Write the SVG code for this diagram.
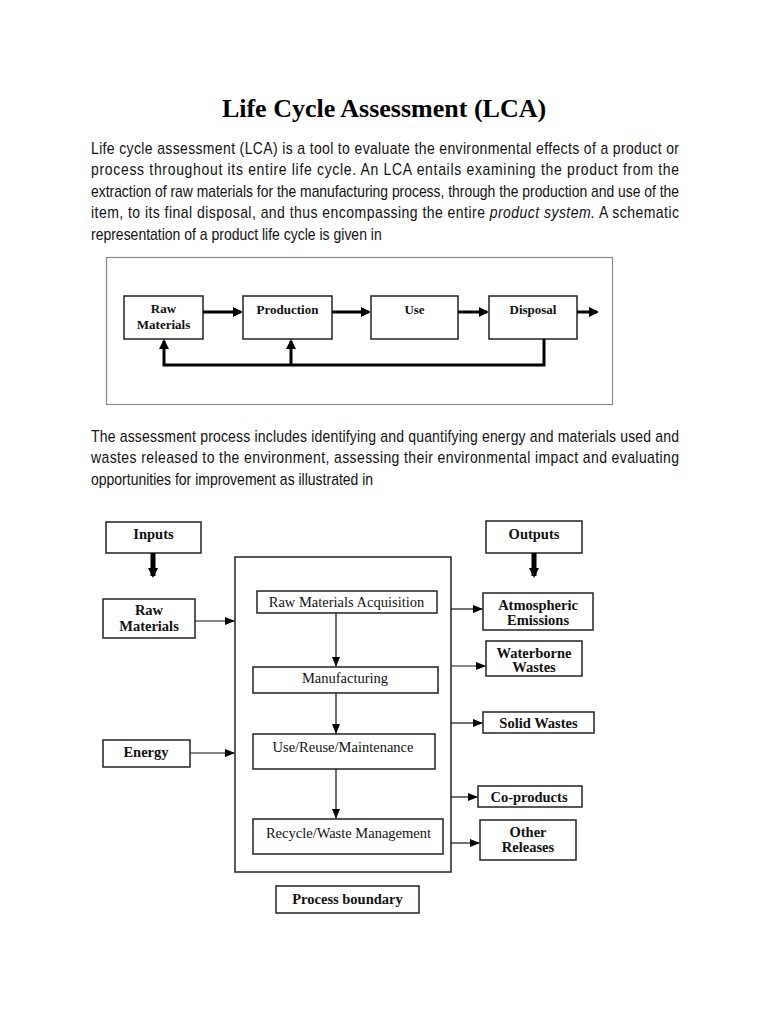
<svg xmlns="http://www.w3.org/2000/svg" width="768" height="1024" viewBox="0 0 768 1024">
<defs>
<style>
.title{font-family:"Liberation Serif","Times New Roman",serif;font-weight:bold;font-size:26px;fill:#000}
.para{font-family:"Liberation Sans",Arial,sans-serif;font-size:16px;fill:#111}
.bl{font-family:"Liberation Serif","Times New Roman",serif;font-weight:bold;font-size:13px;fill:#111;text-anchor:middle}
.bl2{font-family:"Liberation Serif","Times New Roman",serif;font-weight:bold;font-size:14.5px;fill:#111;text-anchor:middle}
.rl{font-family:"Liberation Serif","Times New Roman",serif;font-size:14.5px;fill:#111;text-anchor:middle}
.box{fill:#fff;stroke:#222;stroke-width:1.5}
.thick{fill:none;stroke:#000;stroke-width:3}
.thin{fill:none;stroke:#111;stroke-width:1.2}
</style>
<marker id="bigArrow" markerWidth="10" markerHeight="10" refX="8" refY="5" orient="auto" markerUnits="userSpaceOnUse" viewBox="0 0 10 10">
<path d="M0,0 L10,5 L0,10 z" fill="#000"/>
</marker>
<marker id="smallArrow" markerWidth="10" markerHeight="8" refX="9" refY="4" orient="auto" markerUnits="userSpaceOnUse" viewBox="0 0 10 8">
<path d="M0,0 L10,4 L0,8 z" fill="#000"/>
</marker>
</defs>
<rect width="768" height="1024" fill="#fff"/>

<text class="title" x="384" y="117" text-anchor="middle">Life Cycle Assessment (LCA)</text>

<g id="para1" transform="scale(0.875,1)">
<text class="para" x="104" y="154" textLength="672" lengthAdjust="spacing">Life cycle assessment (LCA) is a tool to evaluate the environmental effects of a product or</text>
<text class="para" x="104" y="175" textLength="672" lengthAdjust="spacing">process throughout its entire life cycle. An LCA entails examining the product from the</text>
<text class="para" x="104" y="197" textLength="672" lengthAdjust="spacingAndGlyphs">extraction of raw materials for the manufacturing process, through the production and use of the</text>
<text class="para" x="104" y="218" textLength="672" lengthAdjust="spacing">item, to its final disposal, and thus encompassing the entire <tspan font-style="italic">product system.</tspan> A schematic</text>
<text class="para" x="104" y="240">representation of a product life cycle is given in</text>
</g>

<g id="figure1">
<rect x="106.5" y="257.5" width="506" height="147" fill="#fff" stroke="#888" stroke-width="1.2"/>
<g id="f1-raw"><rect class="box" x="124" y="296" width="79" height="43"/><text class="bl" x="163.5" y="313">Raw</text><text class="bl" x="163.5" y="329">Materials</text></g>
<g id="f1-production"><rect class="box" x="243" y="296" width="89" height="43"/><text class="bl" x="287.5" y="314">Production</text></g>
<g id="f1-use"><rect class="box" x="371" y="296" width="87" height="43"/><text class="bl" x="414.5" y="314">Use</text></g>
<g id="f1-disposal"><rect class="box" x="489" y="296" width="88" height="43"/><text class="bl" x="533" y="314">Disposal</text></g>
<g id="f1-connectors">
<line class="thick" x1="203" y1="312" x2="241" y2="312" marker-end="url(#bigArrow)"/>
<line class="thick" x1="332" y1="312" x2="369" y2="312" marker-end="url(#bigArrow)"/>
<line class="thick" x1="458" y1="312" x2="487" y2="312" marker-end="url(#bigArrow)"/>
<line class="thick" x1="577" y1="312" x2="597" y2="312" marker-end="url(#bigArrow)"/>
<polyline class="thick" points="544,339 544,365 164,365 164,341" marker-end="url(#bigArrow)"/>
<line class="thick" x1="291" y1="365" x2="291" y2="341" marker-end="url(#bigArrow)"/>
</g>
</g>

<g id="para2" transform="scale(0.875,1)">
<text class="para" x="104" y="442" textLength="672" lengthAdjust="spacing">The assessment process includes identifying and quantifying energy and materials used and</text>
<text class="para" x="104" y="463" textLength="672" lengthAdjust="spacing">wastes released to the environment, assessing their environmental impact and evaluating</text>
<text class="para" x="104" y="485">opportunities for improvement as illustrated in</text>
</g>

<g id="figure2">
<g id="boundary"><rect x="235" y="557" width="216" height="315" fill="none" stroke="#222" stroke-width="1.5"/></g>
<g id="inputs"><rect class="box" x="106" y="522" width="95" height="31"/><text class="bl2" x="153.5" y="539">Inputs</text></g>
<g id="outputs"><rect class="box" x="486" y="521" width="96" height="32"/><text class="bl2" x="534" y="539">Outputs</text></g>
<g id="raw-materials"><rect class="box" x="103" y="599" width="92" height="39"/><text class="bl2" x="149" y="615">Raw</text><text class="bl2" x="149" y="631">Materials</text></g>
<g id="energy"><rect class="box" x="103" y="740" width="87" height="27"/><text class="bl2" x="146" y="757">Energy</text></g>
<g id="rma"><rect class="box" x="257" y="591" width="180" height="22"/><text class="rl" x="346.5" y="607">Raw Materials Acquisition</text></g>
<g id="manufacturing"><rect class="box" x="253" y="667" width="185" height="26"/><text class="rl" x="345" y="683">Manufacturing</text></g>
<g id="use-reuse"><rect class="box" x="253" y="734" width="182" height="35"/><text class="rl" x="343" y="752">Use/Reuse/Maintenance</text></g>
<g id="recycle"><rect class="box" x="253" y="819" width="190" height="35"/><text class="rl" x="348.5" y="838">Recycle/Waste Management</text></g>
<g id="process-boundary"><rect class="box" x="276" y="886" width="143" height="27"/><text class="bl2" x="347.5" y="904">Process boundary</text></g>
<g id="atmospheric"><rect class="box" x="483" y="593" width="110" height="37"/><text class="bl2" x="538" y="610">Atmospheric</text><text class="bl2" x="538" y="625">Emissions</text></g>
<g id="waterborne"><rect class="box" x="486" y="641" width="96" height="35"/><text class="bl2" x="534" y="658">Waterborne</text><text class="bl2" x="534" y="672">Wastes</text></g>
<g id="solid"><rect class="box" x="483" y="712" width="111" height="21"/><text class="bl2" x="538.5" y="728">Solid Wastes</text></g>
<g id="coproducts"><rect class="box" x="478" y="786" width="104" height="21"/><text class="bl2" x="529" y="802">Co-products</text></g>
<g id="other"><rect class="box" x="480" y="820" width="96" height="40"/><text class="bl2" x="528" y="837">Other</text><text class="bl2" x="528" y="852">Releases</text></g>
<g id="f2-connectors">
<line x1="153" y1="553" x2="153" y2="576" stroke="#000" stroke-width="5" marker-end="url(#bigArrow)"/>
<line x1="534" y1="553" x2="534" y2="576" stroke="#000" stroke-width="5" marker-end="url(#bigArrow)"/>
<line class="thin" x1="195" y1="621" x2="234" y2="621" marker-end="url(#smallArrow)"/>
<line class="thin" x1="190" y1="753" x2="234" y2="753" marker-end="url(#smallArrow)"/>
<line class="thin" x1="336" y1="613" x2="336" y2="666" marker-end="url(#smallArrow)"/>
<line class="thin" x1="336" y1="693" x2="336" y2="733" marker-end="url(#smallArrow)"/>
<line class="thin" x1="336" y1="769" x2="336" y2="818" marker-end="url(#smallArrow)"/>
<line class="thin" x1="451" y1="609" x2="482" y2="609" marker-end="url(#smallArrow)"/>
<line class="thin" x1="451" y1="666" x2="485" y2="666" marker-end="url(#smallArrow)"/>
<line class="thin" x1="451" y1="723" x2="482" y2="723" marker-end="url(#smallArrow)"/>
<line class="thin" x1="451" y1="797" x2="477" y2="797" marker-end="url(#smallArrow)"/>
<line class="thin" x1="451" y1="843" x2="479" y2="843" marker-end="url(#smallArrow)"/>
</g>
</g>
</svg>
